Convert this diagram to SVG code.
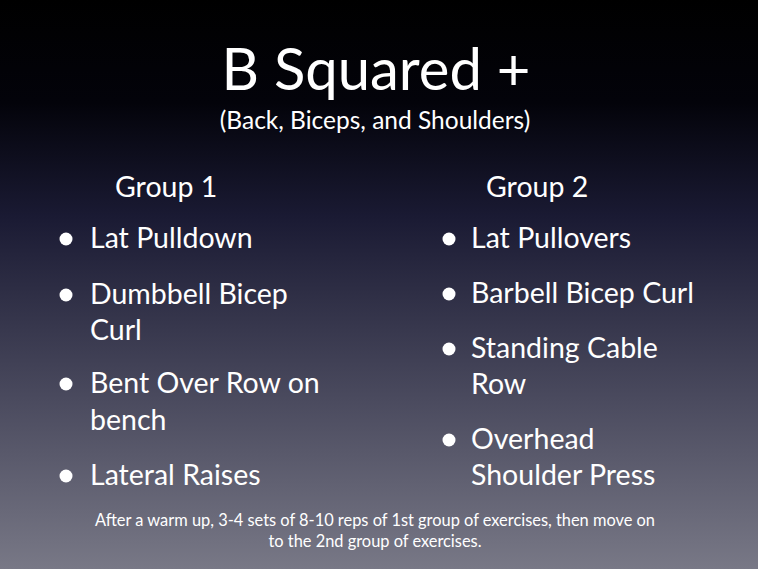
<svg xmlns="http://www.w3.org/2000/svg" width="758" height="569" viewBox="0 0 758 569">
<defs>
<linearGradient id="bg" x1="0" y1="0" x2="0" y2="1">
<stop offset="0" stop-color="#000000"/>
<stop offset="0.18" stop-color="#03030a"/>
<stop offset="0.38" stop-color="#1a1a33"/>
<stop offset="0.7" stop-color="#4a4a5e"/>
<stop offset="1" stop-color="#787886"/>
</linearGradient>
<style>
text{font-family:Lato,"Open Sans","Liberation Sans",sans-serif;fill:#fff}
.b{font-size:28.5px}
.f{font-size:16.4px}
</style>
</defs>
<rect width="758" height="569" fill="url(#bg)"/>
<text x="376" y="90" text-anchor="middle" font-size="58">B Squared +</text>
<text x="375" y="129" text-anchor="middle" font-size="24.5">(Back, Biceps, and Shoulders)</text>
<text class="b" x="115" y="197">Group 1</text>
<text class="b" x="486" y="197">Group 2</text>
<g fill="#fff">
<circle cx="66" cy="239" r="6.5"/><circle cx="66" cy="295" r="6.5"/><circle cx="66" cy="384" r="6.5"/><circle cx="66" cy="476" r="6.5"/>
<circle cx="449" cy="239" r="6.5"/><circle cx="449" cy="294" r="6.5"/><circle cx="449" cy="349" r="6.5"/><circle cx="449" cy="440" r="6.5"/>
</g>
<text class="b" x="90" y="248">Lat Pulldown</text>
<text class="b" x="90" y="304">Dumbbell Bicep</text>
<text class="b" x="90" y="340">Curl</text>
<text class="b" x="90" y="393">Bent Over Row on</text>
<text class="b" x="90" y="430">bench</text>
<text class="b" x="90" y="485">Lateral Raises</text>
<text class="b" x="471" y="248">Lat Pullovers</text>
<text class="b" x="471" y="303">Barbell Bicep Curl</text>
<text class="b" x="471" y="358">Standing Cable</text>
<text class="b" x="471" y="394">Row</text>
<text class="b" x="471" y="449">Overhead</text>
<text class="b" x="471" y="485">Shoulder Press</text>
<text class="f" x="375" y="526" text-anchor="middle">After a warm up, 3-4 sets of 8-10 reps of 1st group of exercises, then move on</text>
<text class="f" x="375" y="547" text-anchor="middle">to the 2nd group of exercises.</text>
</svg>
